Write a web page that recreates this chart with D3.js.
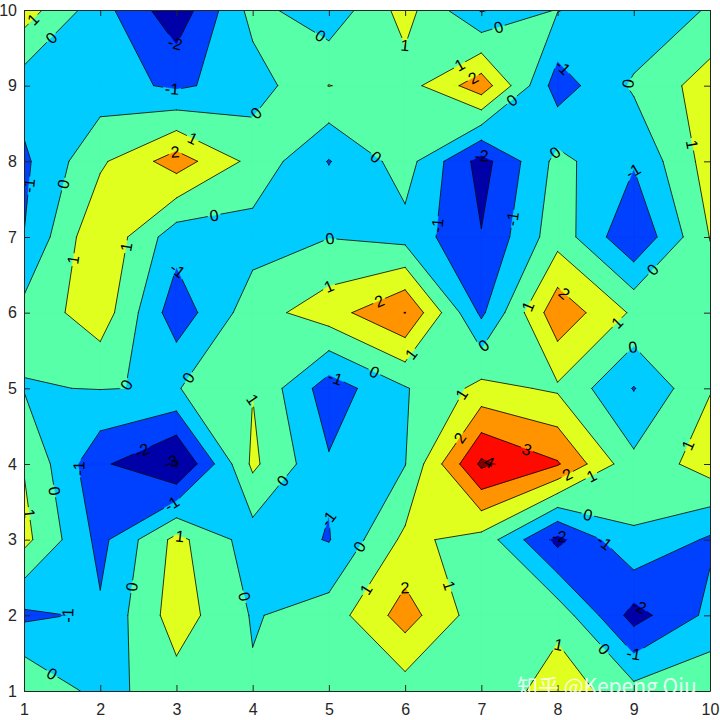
<!DOCTYPE html>
<html><head><meta charset="utf-8">
<script src="https://cdn.jsdelivr.net/npm/d3@7"></script>
<style>body{margin:0;background:#fff}svg{display:block}</style>
</head><body>
<svg id="chart" width="720" height="720"></svg>
<script>
// ---- data ----
const xTicks = [1,2,3,4,5,6,7,8,9,10];
const yTicks = [1,2,3,4,5,6,7,8,9,10];
const levels = [-3,-2,-1,0,1,2,3,4];
// grid values, one array per row (y = 1 .. 10), columns x = 1 .. 10
const z_y1  = [ 1.02,-0.36, 0.57, 0.11, 0.50, 0.50, 0.13, 1.60, 0.35, 0.81];
const z_y2  = [-1.20,-0.85, 1.50,-0.08, 0.45, 2.45, 0.40, 0.65,-2.40,-0.75];
const z_y3  = [ 1.30,-1.30, 1.30,-0.50,-1.05, 1.23, 0.64,-2.30,-0.06,-1.15];
const z_y4  = [ 0.95,-1.80,-3.20, 1.20,-0.89,-0.03, 4.20, 3.10, 0.26, 1.50];
const z_y5  = [-0.05, 0.03,-0.06, 0.97,-1.55,-0.08, 1.30, 0.85,-1.05, 0.95];
const z_y6  = [ 0.30, 1.60,-1.60, 0.55, 1.56, 3.02,-1.20, 2.70, 0.83, 0.50];
const z_y7  = [-0.99, 1.90,-0.60,-0.43,-0.03,-0.35,-1.95, 0.60,-1.90, 1.03];
const z_y8  = [-1.19, 0.83, 2.50, 0.70,-1.05, 0.45,-2.40, 0.30,-0.90, 1.45];
const z_y9  = [-0.55,-0.58,-1.18,-0.50, 1.02, 0.55, 2.60,-1.50, 0.15, 1.50];
const z_y10 = [ 1.50,-0.60,-2.70, 0.35,-0.70, 1.40,-1.10, 0.05,-0.80, 0.10];
const watermark = "知乎 @Kepeng Qiu";

// ---- style ----
const bandColors = ["#000080","#0000A8","#0040FF","#00CCFF","#57FFA8","#E0FF1F","#FF9400","#FF0A00","#800000"];
const axisColor = "#262626";

// ---- build ----
const zRows = [z_y1,z_y2,z_y3,z_y4,z_y5,z_y6,z_y7,z_y8,z_y9,z_y10];
const nx = xTicks.length, ny = yTicks.length;

const L = 24, R = 710, T = 10, B = 691;
const x = d3.scaleLinear().domain([xTicks[0], xTicks[nx-1]]).range([L, R]);
const y = d3.scaleLinear().domain([yTicks[0], yTicks[ny-1]]).range([B, T]);

const svg = d3.select("#chart");
const defs = svg.append("defs");
defs.append("clipPath").attr("id","plot").append("rect")
  .attr("x",L).attr("y",T).attr("width",R-L).attr("height",B-T);

// marching squares (linear edges, straight segments, saddle decided by cell mean)
function edgeKey(c0,c1){
  const s = (c0[0]<c1[0] || (c0[0]===c1[0] && c0[1]<c1[1])) ? [c0,c1] : [c1,c0];
  return s[0].join(",")+"|"+s[1].join(",");
}
function levelGeometry(lev){
  const polys = [], segs = [];
  for (let j=0;j<ny-1;j++) for (let i=0;i<nx-1;i++){
    const C = [[i,j],[i+1,j],[i+1,j+1],[i,j+1]];
    const v = C.map(([a,b])=>zRows[b][a]);
    const ins = v.map(q=>q>=lev);
    const P = C.map(([a,b])=>[xTicks[a], yTicks[b]]);
    const E = [0,1,2,3].map(k=>{
      const k2=(k+1)%4;
      if (ins[k]===ins[k2]) return null;
      const t=(lev-v[k])/(v[k2]-v[k]);
      return {key:edgeKey(C[k],C[k2]), p:[P[k][0]+(P[k2][0]-P[k][0])*t, P[k][1]+(P[k2][1]-P[k][1])*t]};
    });
    const n = ins.filter(Boolean).length;
    if (n===0) continue;
    const saddle = n===2 && ins[0]===ins[2];
    const highsJoined = d3.mean(v) >= lev;
    if (saddle && !highsJoined){
      for (let k=0;k<4;k++) if (ins[k]) polys.push([E[(k+3)%4].p, P[k], E[k].p]);
    } else {
      const poly=[];
      for (let k=0;k<4;k++){ if (ins[k]) poly.push(P[k]); if (E[k]) poly.push(E[k].p); }
      polys.push(poly);
    }
    if (n===4) continue;
    if (saddle){
      for (let k=0;k<4;k++){
        const isolated = highsJoined ? !ins[k] : ins[k];
        if (isolated) segs.push({a:E[(k+3)%4], b:E[k]});
      }
    } else {
      const ce = E.filter(Boolean);
      segs.push({a:ce[0], b:ce[1]});
    }
  }
  return {value:lev, polys, segs};
}
function chainsOf(segs){
  const byKey = new Map();
  segs.forEach((s,idx)=>[s.a.key,s.b.key].forEach(k=>{ if(!byKey.has(k)) byKey.set(k,[]); byKey.get(k).push(idx); }));
  const used = new Array(segs.length).fill(false);
  const ext = (cur, out)=>{
    for(;;){
      const nxt = byKey.get(cur.key).find(id=>!used[id]);
      if (nxt===undefined) break;
      used[nxt]=true; const t=segs[nxt];
      cur = (t.a.key===cur.key) ? t.b : t.a; out.push(cur);
    }
  };
  const deg = i=>Math.min(byKey.get(segs[i].a.key).length, byKey.get(segs[i].b.key).length);
  const order = segs.map((s,i)=>i).sort((p,q)=>deg(p)-deg(q));
  const chains=[];
  order.forEach(idx=>{
    if (used[idx]) return;
    used[idx]=true;
    const s=segs[idx];
    let a=s.a, b=s.b;
    if (byKey.get(b.key).length===1 && byKey.get(a.key).length>1){ const tmp=a; a=b; b=tmp; }
    const fwd=[a,b]; ext(b,fwd);
    const back=[]; ext(a,back);
    chains.push(back.reverse().concat(fwd).map(o=>o.p));
  });
  return chains;
}
const geoms = levels.map(levelGeometry);
const line = d3.line().x(p=>x(p[0])).y(p=>y(p[1]));

// fills
const fillG = svg.append("g").attr("clip-path","url(#plot)");
fillG.append("rect").attr("x",L).attr("y",T).attr("width",R-L).attr("height",B-T).attr("fill",bandColors[0]);
fillG.selectAll("path").data(geoms).join("path")
  .attr("d", g=>g.polys.map(p=>line(p)+"Z").join(""))
  .attr("fill",(d,i)=>bandColors[i+1]).attr("stroke",(d,i)=>bandColors[i+1])
  .attr("stroke-width",0.4).attr("stroke-linejoin","round");

// labels along contour lines
function pointAt(pts, cum, s){
  s = Math.max(0, Math.min(cum[cum.length-1], s));
  let i = 1; while (i < cum.length-1 && cum[i] < s) i++;
  const seg = cum[i]-cum[i-1] || 1e-9, t = (s-cum[i-1])/seg;
  return [pts[i-1][0]+(pts[i][0]-pts[i-1][0])*t, pts[i-1][1]+(pts[i][1]-pts[i-1][1])*t];
}
const spacing = 210, minLen = 18;
const labels = [];
geoms.forEach(g=>{
  g.chains = chainsOf(g.segs);
  g.chains.forEach(ch=>{
    const run = ch.map(p=>[x(p[0]), y(p[1])]);
    const cum=[0];
    for (let i=1;i<run.length;i++) cum.push(cum[i-1]+Math.hypot(run[i][0]-run[i-1][0], run[i][1]-run[i-1][1]));
    const len = cum[cum.length-1];
    if (len < minLen) return;
    const k = Math.max(1, Math.round(len/spacing));
    for (let j=0;j<k;j++){
      const sPos = len*(j+0.5)/k;
      const p = pointAt(run,cum,sPos), a = pointAt(run,cum,sPos-9), b = pointAt(run,cum,sPos+9);
      let ang = Math.atan2(b[1]-a[1], b[0]-a[0])*180/Math.PI;
      if (ang > 90) ang -= 180; if (ang < -90) ang += 180;
      labels.push({v:g.value, x:p[0], y:p[1], a:ang});
    }
  });
});

const lineHolder = svg.append("g").attr("clip-path","url(#plot)");
const labelG = svg.append("g").attr("clip-path","url(#plot)")
  .attr("font-family","'Liberation Sans', Arial, Helvetica, sans-serif").attr("font-size",16);
const texts = labelG.selectAll("text").data(labels).join("text")
  .attr("transform", d=>`translate(${d.x},${d.y}) rotate(${d.a})`)
  .attr("text-anchor","middle").attr("dy","0.36em").attr("fill","#000")
  .text(d=>String(d.v));
texts.each(function(d){ d.w = this.getComputedTextLength(); });

const mask = defs.append("mask").attr("id","lblMask").attr("maskUnits","userSpaceOnUse")
  .attr("x",0).attr("y",0).attr("width",720).attr("height",720);
mask.append("rect").attr("width",720).attr("height",720).attr("fill","#fff");
mask.selectAll("rect.hole").data(labels).join("rect").attr("class","hole")
  .attr("x",d=>-d.w/2-2).attr("y",-7).attr("width",d=>d.w+4).attr("height",14)
  .attr("transform", d=>`translate(${d.x},${d.y}) rotate(${d.a})`).attr("fill","#000");

lineHolder.append("g").attr("mask","url(#lblMask)")
  .selectAll("path").data(geoms).join("path")
  .attr("d", g=>g.segs.map(s=>"M"+x(s.a.p[0])+","+y(s.a.p[1])+"L"+x(s.b.p[0])+","+y(s.b.p[1])).join(""))
  .attr("fill","none").attr("stroke","#000").attr("stroke-width",0.8).attr("stroke-linecap","round");

// axes
const font = "'Liberation Sans', Arial, Helvetica, sans-serif";
function styleAxis(g){
  g.attr("font-size",16).attr("font-family",font).attr("color",axisColor);
  g.selectAll("text").attr("fill",axisColor);
}
svg.append("g").attr("transform",`translate(0,${B})`)
  .call(d3.axisBottom(x).tickValues(xTicks).tickFormat(d3.format("d")).tickSize(-6).tickSizeOuter(0).tickPadding(13))
  .call(styleAxis);
svg.append("g").attr("transform",`translate(${L},0)`)
  .call(d3.axisLeft(y).tickValues(yTicks).tickFormat(d3.format("d")).tickSize(-6).tickSizeOuter(0).tickPadding(7))
  .call(styleAxis);
svg.append("g").attr("transform",`translate(0,${T})`)
  .call(d3.axisTop(x).tickValues(xTicks).tickFormat("").tickSize(-6).tickSizeOuter(0))
  .call(styleAxis);
svg.append("g").attr("transform",`translate(${R},0)`)
  .call(d3.axisRight(y).tickValues(yTicks).tickFormat("").tickSize(-6).tickSizeOuter(0))
  .call(styleAxis);

// watermark
svg.append("text").attr("x",517).attr("y",694)
  .attr("font-family","'Noto Sans CJK SC', 'Noto Sans', sans-serif").attr("font-size",21)
  .attr("fill","#fff").attr("fill-opacity",0.85).text(watermark);
</script>
</body></html>
